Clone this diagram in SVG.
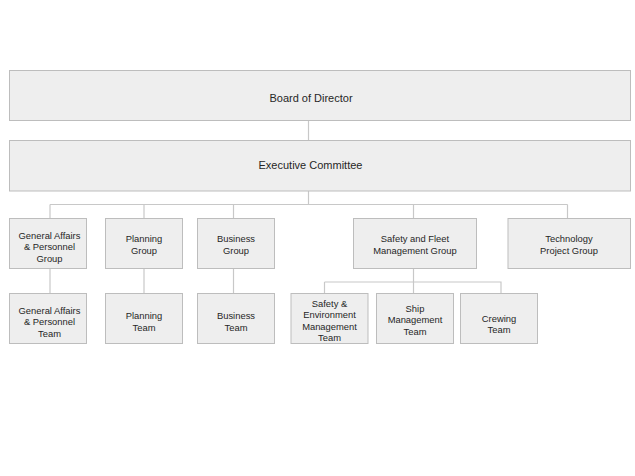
<svg xmlns="http://www.w3.org/2000/svg" width="635" height="476" viewBox="0 0 635 476">
<style>
.box{fill:#eeeeee;stroke:#bdbdbd;stroke-width:1}
.t{font-family:"Liberation Sans",Arial,sans-serif;font-size:9.4px;fill:#262626;text-anchor:middle}
.big{font-size:11px}
.c{fill:none;stroke:#c8c8c8;stroke-width:1.2}
</style>
<rect width="635" height="476" fill="#ffffff"/>
<g id="connectors">
<path class="c" d="M308.5 120.5V140.5"/>
<path class="c" d="M308.5 191V204.5M50 204.5H567.5M50 204.5V218.5M144 204.5V218.5M233.5 204.5V218.5M413.5 204.5V218.5M567.5 204.5V218.5"/>
<path class="c" d="M50 268.5V293.5M144 268.5V293.5M233.5 268.5V293.5"/>
<path class="c" d="M413.5 268.5V293.5M324.5 282H501V293.5M324.5 282V293.5"/>
</g>
<g id="board"><rect class="box" x="9.5" y="70.5" width="621" height="50"/><text class="t big" x="311" y="102">Board of Director</text></g>
<g id="exec"><rect class="box" x="9.5" y="140.5" width="621" height="50.5"/><text class="t big" x="310.5" y="169">Executive Committee</text></g>
<g id="ga-group"><rect class="box" x="9.5" y="218.5" width="77" height="50"/><text class="t" x="49.5" y="239">General Affairs<tspan x="49.5" dy="11.4">&amp; Personnel</tspan><tspan x="49.5" dy="11.4">Group</tspan></text></g>
<g id="planning-group"><rect class="box" x="105.5" y="218.5" width="77" height="50"/><text class="t" x="144" y="242">Planning<tspan x="144" dy="11.5">Group</tspan></text></g>
<g id="business-group"><rect class="box" x="197.5" y="218.5" width="77" height="50"/><text class="t" x="236" y="242">Business<tspan x="236" dy="11.5">Group</tspan></text></g>
<g id="safety-group"><rect class="box" x="353.5" y="218.5" width="123" height="50"/><text class="t" x="415" y="242">Safety and Fleet<tspan x="415" dy="11.5">Management Group</tspan></text></g>
<g id="tech-group"><rect class="box" x="508" y="218.5" width="122.5" height="50"/><text class="t" x="569" y="242">Technology<tspan x="569" dy="11.5">Project Group</tspan></text></g>
<g id="ga-team"><rect class="box" x="9.5" y="293.5" width="77" height="50"/><text class="t" x="49.5" y="314">General Affairs<tspan x="49.5" dy="11.4">&amp; Personnel</tspan><tspan x="49.5" dy="11.4">Team</tspan></text></g>
<g id="planning-team"><rect class="box" x="105.5" y="293.5" width="77" height="50"/><text class="t" x="144" y="319">Planning<tspan x="144" dy="11.5">Team</tspan></text></g>
<g id="business-team"><rect class="box" x="197.5" y="293.5" width="77" height="50"/><text class="t" x="236" y="319">Business<tspan x="236" dy="11.5">Team</tspan></text></g>
<g id="safety-env-team"><rect class="box" x="291" y="293.5" width="77" height="50"/><text class="t" x="329.5" y="307">Safety &amp;<tspan x="329.5" dy="11.4">Environment</tspan><tspan x="329.5" dy="11.4">Management</tspan><tspan x="329.5" dy="11.4">Team</tspan></text></g>
<g id="ship-team"><rect class="box" x="376.5" y="293.5" width="77" height="50"/><text class="t" x="415" y="312">Ship<tspan x="415" dy="11.4">Management</tspan><tspan x="415" dy="11.4">Team</tspan></text></g>
<g id="crewing-team"><rect class="box" x="460.5" y="293.5" width="77" height="50"/><text class="t" x="499" y="321.5">Crewing<tspan x="499" dy="11.4">Team</tspan></text></g>
</svg>
